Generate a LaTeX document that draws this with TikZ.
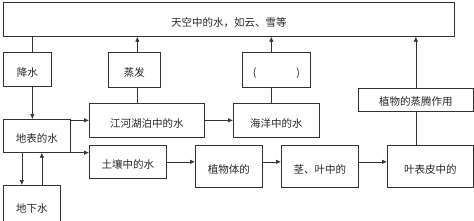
\documentclass[tikz,border=0pt]{standalone}
\usepackage{fontspec}
\newfontfamily\cjk{Noto Sans CJK SC}
\usetikzlibrary{arrows.meta,positioning}

\begin{document}
\begin{tikzpicture}[
    x=1pt, y=-1pt,
    >={Latex[length=5pt,width=4.5pt]},
    box/.style={
        rectangle, draw=black!80, line width=0.7pt,
        inner sep=0pt, anchor=north west,
        text height=14pt, text depth=0pt,
        font=\cjk\fontsize{10.5}{12}\selectfont, text=black!85
    },
    link/.style={draw=black!80, line width=0.7pt},
    arr/.style={->, link}
]
    \useasboundingbox (0,0) rectangle (474,220);
    \clip (0,0) rectangle (474,220);

    % Top box
    \node[box, minimum width=451, minimum height=34] (sky) at (3,2) {天空中的水，如云、雪等};

    % Second row
    \node[box, minimum width=48, minimum height=34] (rain) at (3,52) {降水};
    \node[box, minimum width=52, minimum height=35] (evap) at (108,52) {蒸发};
    \node[box, minimum width=68, minimum height=35] (blank) at (242,52) {(\hspace{40pt})};
    \node[box, minimum width=115, minimum height=23, text height=12pt] (transp) at (358,88) {植物的蒸腾作用};

    % Water bodies
    \node[box, minimum width=115, minimum height=34] (river) at (89,103) {江河湖泊中的水};
    \node[box, minimum width=86, minimum height=34] (ocean) at (233,103) {海洋中的水};
    \node[box, minimum width=67, minimum height=33] (surface) at (3,119) {地表的水};

    % Soil and plants
    \node[box, minimum width=77, minimum height=33] (soil) at (89,145) {土壤中的水};
    \node[box, minimum width=67, minimum height=42] (plant) at (195,145) {植物体的};
    \node[box, minimum width=77, minimum height=42] (stem) at (281,145) {茎、叶中的};
    \node[box, minimum width=86, minimum height=42] (leaf) at (387,145) {叶表皮中的};
    \node[box, minimum width=57, minimum height=40] (ground) at (3,185) {地下水};

    % Links to the sky
    \draw[link] ([xshift=5]rain.north) -- ([xshift=5]rain.north |- sky.south);
    \draw[arr] ([xshift=3]evap.north) -- ([xshift=3]evap.north |- sky.south);
    \draw[arr] ([xshift=-5]blank.north) -- ([xshift=-5]blank.north |- sky.south);
    \draw[arr] (transp.north) -- (transp.north |- sky.south);

    % Links below the second row
    \draw[arr] ([xshift=5]rain.south) -- ([xshift=5]rain.south |- surface.north);
    \draw[link] ([xshift=3]evap.south) -- ([xshift=3]evap.south |- river.north);
    \draw[link] ([xshift=-5]blank.south) -- ([xshift=-5]blank.south |- ocean.north);
    \draw[link] (transp.south) -- (transp.south |- leaf.north);

    % Main flow
    \draw[arr] (surface.east |- river.west) -- (river.west);
    \draw[arr] (river.east) -- (ocean.west);
    \draw[arr] (surface.south east) -- (surface.south east -| soil.west);
    \draw[arr] (soil.east) -- (soil.east -| plant.west);
    \draw[arr] (plant.east |- soil.east) -- (stem.west |- soil.east);
    \draw[arr] (stem.east |- soil.east) -- (leaf.west |- soil.east);

    % Ground water
    \draw[arr] ([xshift=-15]surface.south) -- ([xshift=-15]surface.south |- ground.north);
    \draw[arr] ([xshift=5]surface.south |- ground.north) -- ([xshift=5]surface.south);

\end{tikzpicture}
\end{document}
